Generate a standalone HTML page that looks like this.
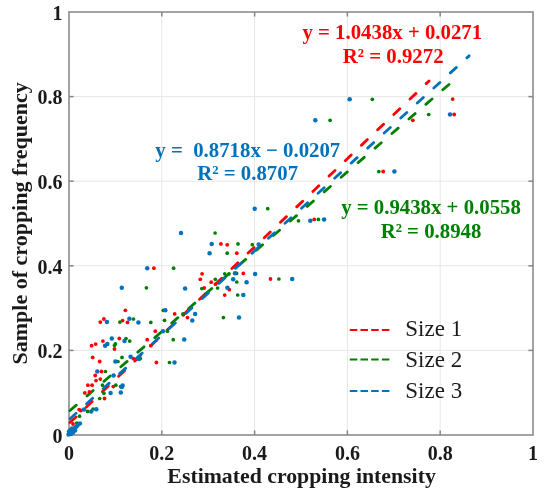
<!DOCTYPE html>
<html><head><meta charset="utf-8"><style>
html,body{margin:0;padding:0;background:#fff;}
svg{display:block;filter:blur(0.3px);}
text{font-family:"Liberation Serif","Times New Roman",serif;}
</style></head><body>
<svg width="550" height="496" viewBox="0 0 550 496">
<rect width="550" height="496" fill="#fff"/>
<g stroke="#e6e6e6" stroke-width="1">
<line x1="161.8" y1="12.0" x2="161.8" y2="435.0"/>
<line x1="69.0" y1="350.4" x2="533.0" y2="350.4"/>
<line x1="254.6" y1="12.0" x2="254.6" y2="435.0"/>
<line x1="69.0" y1="265.8" x2="533.0" y2="265.8"/>
<line x1="347.4" y1="12.0" x2="347.4" y2="435.0"/>
<line x1="69.0" y1="181.2" x2="533.0" y2="181.2"/>
<line x1="440.2" y1="12.0" x2="440.2" y2="435.0"/>
<line x1="69.0" y1="96.6" x2="533.0" y2="96.6"/>
</g>

<g stroke="#858585" stroke-width="1.5" fill="none">
<rect x="69.0" y="12.0" width="464.0" height="423.0"/>
<line x1="161.8" y1="435.0" x2="161.8" y2="430.4"/>
<line x1="161.8" y1="12.0" x2="161.8" y2="16.6"/>
<line x1="69.0" y1="350.4" x2="73.6" y2="350.4"/>
<line x1="533.0" y1="350.4" x2="528.4" y2="350.4"/>
<line x1="254.6" y1="435.0" x2="254.6" y2="430.4"/>
<line x1="254.6" y1="12.0" x2="254.6" y2="16.6"/>
<line x1="69.0" y1="265.8" x2="73.6" y2="265.8"/>
<line x1="533.0" y1="265.8" x2="528.4" y2="265.8"/>
<line x1="347.4" y1="435.0" x2="347.4" y2="430.4"/>
<line x1="347.4" y1="12.0" x2="347.4" y2="16.6"/>
<line x1="69.0" y1="181.2" x2="73.6" y2="181.2"/>
<line x1="533.0" y1="181.2" x2="528.4" y2="181.2"/>
<line x1="440.2" y1="435.0" x2="440.2" y2="430.4"/>
<line x1="440.2" y1="12.0" x2="440.2" y2="16.6"/>
<line x1="69.0" y1="96.6" x2="73.6" y2="96.6"/>
<line x1="533.0" y1="96.6" x2="528.4" y2="96.6"/>
</g>
<g stroke-linecap="butt">
<line x1="69.00" y1="423.54" x2="429.06" y2="80.91" stroke="#ff0000" stroke-width="2.8" stroke-linecap="round" stroke-dasharray="8.2 14.15" stroke-dashoffset="-1.4"/>
<line x1="69.00" y1="411.40" x2="449.90" y2="83.67" stroke="#008000" stroke-width="2.8" stroke-linecap="round" stroke-dasharray="8.2 14.15" stroke-dashoffset="-1.4"/>
<line x1="69.00" y1="419.69" x2="469.11" y2="55.85" stroke="#0072bd" stroke-width="2.8" stroke-linecap="round" stroke-dasharray="8.2 14.15" stroke-dashoffset="-1.4"/>
</g>
<g>
<circle cx="99.7" cy="361.5" r="1.9" fill="#ff0000"/>
<circle cx="101.5" cy="371.5" r="1.9" fill="#ff0000"/>
<circle cx="95.2" cy="375.5" r="1.9" fill="#ff0000"/>
<circle cx="96.0" cy="380.6" r="1.9" fill="#ff0000"/>
<circle cx="100.3" cy="379.1" r="1.9" fill="#ff0000"/>
<circle cx="87.9" cy="385.2" r="1.9" fill="#ff0000"/>
<circle cx="92.1" cy="385.2" r="1.9" fill="#ff0000"/>
<circle cx="113.3" cy="386.6" r="1.9" fill="#ff0000"/>
<circle cx="84.8" cy="392.9" r="1.9" fill="#ff0000"/>
<circle cx="89.4" cy="392.0" r="1.9" fill="#ff0000"/>
<circle cx="104.5" cy="398.5" r="1.9" fill="#ff0000"/>
<circle cx="79.1" cy="409.6" r="1.9" fill="#ff0000"/>
<circle cx="80.8" cy="410.5" r="1.9" fill="#ff0000"/>
<circle cx="73.0" cy="424.0" r="1.9" fill="#ff0000"/>
<circle cx="100.3" cy="322.1" r="1.9" fill="#ff0000"/>
<circle cx="103.9" cy="319.0" r="1.9" fill="#ff0000"/>
<circle cx="122.6" cy="320.6" r="1.9" fill="#ff0000"/>
<circle cx="91.6" cy="345.7" r="1.9" fill="#ff0000"/>
<circle cx="95.7" cy="344.1" r="1.9" fill="#ff0000"/>
<circle cx="102.9" cy="341.1" r="1.9" fill="#ff0000"/>
<circle cx="119.3" cy="338.5" r="1.9" fill="#ff0000"/>
<circle cx="114.5" cy="349.0" r="1.9" fill="#ff0000"/>
<circle cx="92.7" cy="357.4" r="1.9" fill="#ff0000"/>
<circle cx="125.4" cy="310.3" r="1.9" fill="#ff0000"/>
<circle cx="127.5" cy="322.4" r="1.9" fill="#ff0000"/>
<circle cx="174.7" cy="313.9" r="1.9" fill="#ff0000"/>
<circle cx="155.3" cy="331.2" r="1.9" fill="#ff0000"/>
<circle cx="147.2" cy="339.7" r="1.9" fill="#ff0000"/>
<circle cx="150.8" cy="345.7" r="1.9" fill="#ff0000"/>
<circle cx="133.3" cy="358.6" r="1.9" fill="#ff0000"/>
<circle cx="156.4" cy="362.5" r="1.9" fill="#ff0000"/>
<circle cx="224.7" cy="295.1" r="1.9" fill="#ff0000"/>
<circle cx="187.5" cy="317.6" r="1.9" fill="#ff0000"/>
<circle cx="153.9" cy="268.2" r="1.9" fill="#ff0000"/>
<circle cx="220.9" cy="243.9" r="1.9" fill="#ff0000"/>
<circle cx="227.2" cy="244.8" r="1.9" fill="#ff0000"/>
<circle cx="236.8" cy="253.2" r="1.9" fill="#ff0000"/>
<circle cx="202.1" cy="273.8" r="1.9" fill="#ff0000"/>
<circle cx="200.3" cy="279.3" r="1.9" fill="#ff0000"/>
<circle cx="211.2" cy="282.2" r="1.9" fill="#ff0000"/>
<circle cx="215.5" cy="284.2" r="1.9" fill="#ff0000"/>
<circle cx="204.2" cy="288.0" r="1.9" fill="#ff0000"/>
<circle cx="229.3" cy="289.7" r="1.9" fill="#ff0000"/>
<circle cx="243.3" cy="273.4" r="1.9" fill="#ff0000"/>
<circle cx="270.5" cy="279.0" r="1.9" fill="#ff0000"/>
<circle cx="314.2" cy="219.4" r="1.9" fill="#ff0000"/>
<circle cx="383.2" cy="171.5" r="1.9" fill="#ff0000"/>
<circle cx="412.8" cy="120.3" r="1.9" fill="#ff0000"/>
<circle cx="452.7" cy="99.1" r="1.9" fill="#ff0000"/>
<circle cx="454.2" cy="114.5" r="1.9" fill="#ff0000"/>
<circle cx="183.3" cy="314.8" r="1.9" fill="#ff0000"/>
<circle cx="105.4" cy="371.5" r="1.85" fill="#008000"/>
<circle cx="102.5" cy="385.2" r="1.85" fill="#008000"/>
<circle cx="115.8" cy="385.2" r="1.85" fill="#008000"/>
<circle cx="120.6" cy="386.6" r="1.85" fill="#008000"/>
<circle cx="103.9" cy="393.3" r="1.85" fill="#008000"/>
<circle cx="99.7" cy="398.5" r="1.85" fill="#008000"/>
<circle cx="87.6" cy="411.4" r="1.85" fill="#008000"/>
<circle cx="93.0" cy="409.0" r="1.85" fill="#008000"/>
<circle cx="79.5" cy="416.2" r="1.85" fill="#008000"/>
<circle cx="76.7" cy="423.1" r="1.85" fill="#008000"/>
<circle cx="119.9" cy="322.1" r="1.85" fill="#008000"/>
<circle cx="114.5" cy="345.3" r="1.85" fill="#008000"/>
<circle cx="115.4" cy="343.8" r="1.85" fill="#008000"/>
<circle cx="122.0" cy="357.4" r="1.85" fill="#008000"/>
<circle cx="133.5" cy="319.0" r="1.85" fill="#008000"/>
<circle cx="150.8" cy="322.4" r="1.85" fill="#008000"/>
<circle cx="163.3" cy="310.3" r="1.85" fill="#008000"/>
<circle cx="164.5" cy="320.3" r="1.85" fill="#008000"/>
<circle cx="167.4" cy="331.2" r="1.85" fill="#008000"/>
<circle cx="173.2" cy="339.7" r="1.85" fill="#008000"/>
<circle cx="126.0" cy="338.5" r="1.85" fill="#008000"/>
<circle cx="129.7" cy="341.1" r="1.85" fill="#008000"/>
<circle cx="140.4" cy="358.6" r="1.85" fill="#008000"/>
<circle cx="169.5" cy="362.5" r="1.85" fill="#008000"/>
<circle cx="223.4" cy="317.6" r="1.85" fill="#008000"/>
<circle cx="146.4" cy="287.8" r="1.85" fill="#008000"/>
<circle cx="173.6" cy="268.2" r="1.85" fill="#008000"/>
<circle cx="215.1" cy="233.0" r="1.85" fill="#008000"/>
<circle cx="238.0" cy="243.9" r="1.85" fill="#008000"/>
<circle cx="227.2" cy="253.2" r="1.85" fill="#008000"/>
<circle cx="215.3" cy="279.3" r="1.85" fill="#008000"/>
<circle cx="224.7" cy="273.8" r="1.85" fill="#008000"/>
<circle cx="229.0" cy="273.8" r="1.85" fill="#008000"/>
<circle cx="236.8" cy="282.0" r="1.85" fill="#008000"/>
<circle cx="201.8" cy="288.6" r="1.85" fill="#008000"/>
<circle cx="217.6" cy="288.0" r="1.85" fill="#008000"/>
<circle cx="237.7" cy="295.0" r="1.85" fill="#008000"/>
<circle cx="236.6" cy="273.4" r="1.85" fill="#008000"/>
<circle cx="252.3" cy="244.7" r="1.85" fill="#008000"/>
<circle cx="278.9" cy="279.0" r="1.85" fill="#008000"/>
<circle cx="298.5" cy="220.8" r="1.85" fill="#008000"/>
<circle cx="318.4" cy="219.4" r="1.85" fill="#008000"/>
<circle cx="267.7" cy="208.7" r="1.85" fill="#008000"/>
<circle cx="372.3" cy="99.3" r="1.85" fill="#008000"/>
<circle cx="330.1" cy="120.3" r="1.85" fill="#008000"/>
<circle cx="378.8" cy="171.6" r="1.85" fill="#008000"/>
<circle cx="428.7" cy="114.5" r="1.85" fill="#008000"/>
<circle cx="117.9" cy="361.5" r="1.85" fill="#008000"/>
<circle cx="183.0" cy="313.9" r="1.85" fill="#008000"/>
<circle cx="115.4" cy="361.5" r="2.25" fill="#0072bd"/>
<circle cx="97.3" cy="371.5" r="2.25" fill="#0072bd"/>
<circle cx="113.6" cy="375.5" r="2.25" fill="#0072bd"/>
<circle cx="122.6" cy="385.4" r="2.25" fill="#0072bd"/>
<circle cx="121.8" cy="387.0" r="2.25" fill="#0072bd"/>
<circle cx="110.6" cy="392.9" r="2.25" fill="#0072bd"/>
<circle cx="120.8" cy="392.4" r="2.25" fill="#0072bd"/>
<circle cx="84.0" cy="409.6" r="2.25" fill="#0072bd"/>
<circle cx="91.2" cy="411.4" r="2.25" fill="#0072bd"/>
<circle cx="96.3" cy="409.2" r="2.25" fill="#0072bd"/>
<circle cx="79.9" cy="423.6" r="2.25" fill="#0072bd"/>
<circle cx="106.9" cy="322.1" r="2.25" fill="#0072bd"/>
<circle cx="105.1" cy="345.7" r="2.25" fill="#0072bd"/>
<circle cx="107.3" cy="344.1" r="2.25" fill="#0072bd"/>
<circle cx="111.8" cy="338.5" r="2.25" fill="#0072bd"/>
<circle cx="124.5" cy="341.1" r="2.25" fill="#0072bd"/>
<circle cx="129.4" cy="318.7" r="2.25" fill="#0072bd"/>
<circle cx="138.4" cy="322.4" r="2.25" fill="#0072bd"/>
<circle cx="165.3" cy="310.3" r="2.25" fill="#0072bd"/>
<circle cx="162.9" cy="331.2" r="2.25" fill="#0072bd"/>
<circle cx="130.6" cy="356.8" r="2.25" fill="#0072bd"/>
<circle cx="138.9" cy="358.9" r="2.25" fill="#0072bd"/>
<circle cx="174.5" cy="362.5" r="2.25" fill="#0072bd"/>
<circle cx="195.1" cy="313.9" r="2.25" fill="#0072bd"/>
<circle cx="192.3" cy="320.5" r="2.25" fill="#0072bd"/>
<circle cx="184.2" cy="339.6" r="2.25" fill="#0072bd"/>
<circle cx="121.8" cy="287.8" r="2.25" fill="#0072bd"/>
<circle cx="147.2" cy="268.2" r="2.25" fill="#0072bd"/>
<circle cx="181.0" cy="233.0" r="2.25" fill="#0072bd"/>
<circle cx="211.7" cy="243.9" r="2.25" fill="#0072bd"/>
<circle cx="209.6" cy="253.2" r="2.25" fill="#0072bd"/>
<circle cx="235.0" cy="273.3" r="2.25" fill="#0072bd"/>
<circle cx="233.2" cy="279.3" r="2.25" fill="#0072bd"/>
<circle cx="185.1" cy="288.6" r="2.25" fill="#0072bd"/>
<circle cx="227.4" cy="287.8" r="2.25" fill="#0072bd"/>
<circle cx="258.7" cy="244.4" r="2.25" fill="#0072bd"/>
<circle cx="255.1" cy="274.1" r="2.25" fill="#0072bd"/>
<circle cx="246.6" cy="282.2" r="2.25" fill="#0072bd"/>
<circle cx="292.2" cy="279.0" r="2.25" fill="#0072bd"/>
<circle cx="243.3" cy="295.0" r="2.25" fill="#0072bd"/>
<circle cx="239.0" cy="317.5" r="2.25" fill="#0072bd"/>
<circle cx="310.3" cy="220.8" r="2.25" fill="#0072bd"/>
<circle cx="324.1" cy="219.4" r="2.25" fill="#0072bd"/>
<circle cx="254.7" cy="208.7" r="2.25" fill="#0072bd"/>
<circle cx="349.7" cy="99.3" r="2.25" fill="#0072bd"/>
<circle cx="315.3" cy="120.3" r="2.25" fill="#0072bd"/>
<circle cx="394.4" cy="171.6" r="2.25" fill="#0072bd"/>
<circle cx="450.0" cy="114.5" r="2.25" fill="#0072bd"/>
<circle cx="68.5" cy="434.5" r="2.25" fill="#0072bd"/>
<circle cx="70.0" cy="433.0" r="2.25" fill="#0072bd"/>
<circle cx="71.5" cy="431.5" r="2.25" fill="#0072bd"/>
<circle cx="73.0" cy="430.0" r="2.25" fill="#0072bd"/>
<circle cx="74.5" cy="428.5" r="2.25" fill="#0072bd"/>
<circle cx="76.0" cy="427.0" r="2.25" fill="#0072bd"/>
<circle cx="77.5" cy="425.5" r="2.25" fill="#0072bd"/>
<circle cx="69.0" cy="431.5" r="2.25" fill="#0072bd"/>
<circle cx="70.5" cy="430.0" r="2.25" fill="#0072bd"/>
<circle cx="72.0" cy="428.5" r="2.25" fill="#0072bd"/>
<circle cx="71.0" cy="434.0" r="2.25" fill="#0072bd"/>
<circle cx="73.0" cy="432.5" r="2.25" fill="#0072bd"/>
<circle cx="75.0" cy="430.5" r="2.25" fill="#0072bd"/>
</g>

<g font-weight="bold" font-size="20" fill="#1a1a1a">
<text x="69.0" y="459.8" text-anchor="middle">0</text>
<text x="161.8" y="459.8" text-anchor="middle">0.2</text>
<text x="254.6" y="459.8" text-anchor="middle">0.4</text>
<text x="347.4" y="459.8" text-anchor="middle">0.6</text>
<text x="440.2" y="459.8" text-anchor="middle">0.8</text>
<text x="533.0" y="459.8" text-anchor="middle">1</text>
<text x="62.5" y="442.8" text-anchor="end">0</text>
<text x="62.5" y="358.2" text-anchor="end">0.2</text>
<text x="62.5" y="273.6" text-anchor="end">0.4</text>
<text x="62.5" y="189.0" text-anchor="end">0.6</text>
<text x="62.5" y="104.4" text-anchor="end">0.8</text>
<text x="62.5" y="19.8" text-anchor="end">1</text>
</g>
<text x="301.6" y="482.6" text-anchor="middle" font-weight="bold" font-size="21.8" fill="#1a1a1a">Estimated cropping intensity</text>
<text transform="translate(26.6 223.4) rotate(-90)" text-anchor="middle" font-weight="bold" font-size="22" fill="#1a1a1a">Sample of cropping frequency</text>
<g font-weight="bold" font-size="20.8" text-anchor="middle">
<text x="392.3" y="39.2" fill="#ff0000">y = 1.0438x + 0.0271</text>
<text x="393.2" y="63.3" fill="#ff0000">R² = 0.9272</text>
<text x="247.8" y="157.3" fill="#0072bd" xml:space="preserve">y =  0.8718x − 0.0207</text>
<text x="247.7" y="180.4" fill="#0072bd">R² = 0.8707</text>
<text x="431" y="214.1" fill="#008000">y = 0.9438x + 0.0558</text>
<text x="431" y="237.7" fill="#008000">R² = 0.8948</text>
</g>
<g stroke-width="2" stroke-dasharray="7.5 3.2">
<line x1="349.8" y1="330" x2="390" y2="330" stroke="#ff0000"/>
<line x1="349.8" y1="359.5" x2="390" y2="359.5" stroke="#008000"/>
<line x1="349.8" y1="391" x2="390" y2="391" stroke="#0072bd"/>
</g>
<g font-size="23" fill="#1a1a1a">
<text x="405.3" y="336.2">Size 1</text>
<text x="405.3" y="366.6">Size 2</text>
<text x="405.3" y="397.8">Size 3</text>
</g>
</svg>
</body></html>
